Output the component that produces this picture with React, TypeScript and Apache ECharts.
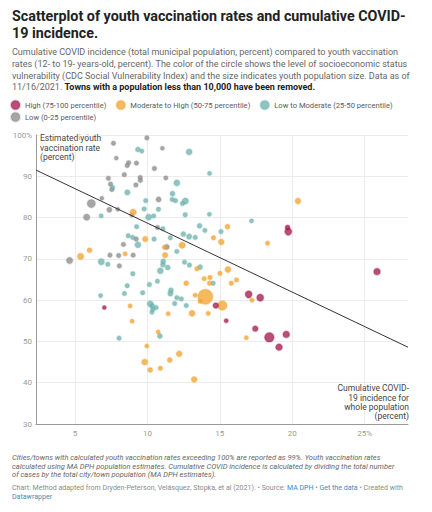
import React, { useEffect, useRef } from "react";
import * as echarts from "echarts";

// [cumulative COVID incidence %, youth vaccination rate %, youth population]
const highPoints: number[][] = [
  [25.86, 66.9, 2000], [19.68, 77.6, 1100], [19.73, 76.6, 2200], [16.99, 61.4, 2200],
  [17.79, 60.6, 2200], [14.72, 58.7, 1400], [15.44, 55.0, 800], [17.45, 53.1, 1400],
  [18.42, 51.0, 4000], [19.59, 51.7, 2000], [19.09, 48.6, 2000], [7.02, 58.2, 700],
];

const modHighPoints: number[][] = [
  [20.4, 84.0, 1500], [9.01, 81.3, 1800], [15.53, 77.8, 1100], [9.84, 74.8, 1300],
  [14.56, 75.1, 900], [15.1, 74.1, 1500], [18.3, 73.8, 800], [12.4, 73.3, 1800],
  [11.18, 72.8, 900], [6.0, 72.1, 1100], [5.38, 70.6, 1800], [8.46, 71.2, 800],
  [11.22, 70.9, 1300], [15.56, 67.4, 1600], [15.01, 66.5, 900], [13.42, 67.6, 900],
  [14.32, 65.5, 900], [13.92, 65.2, 900], [16.15, 64.9, 900], [12.68, 64.1, 1100],
  [14.29, 64.1, 900], [15.79, 64.1, 900], [13.3, 61.2, 800], [14.0, 60.8, 10000],
  [13.64, 59.7, 800], [15.17, 58.7, 4000], [13.08, 56.8, 1600], [11.43, 56.7, 800],
  [14.2, 56.8, 800], [17.22, 60.0, 800], [8.8, 58.6, 800], [8.94, 54.9, 800],
  [16.83, 50.9, 800], [10.74, 52.3, 800], [9.96, 48.9, 800], [9.81, 45.0, 1600],
  [10.19, 43.1, 1100], [10.89, 43.5, 900], [11.54, 45.5, 1100], [12.19, 47.0, 1500],
  [13.23, 40.8, 1500],
];

const lowModPoints: number[][] = [
  [9.34, 96.5, 1100], [9.61, 96.1, 800], [12.88, 95.9, 1600], [14.29, 90.7, 800],
  [7.59, 87.3, 900], [12.03, 88.4, 1600], [8.61, 86.1, 1300], [11.73, 85.8, 1100],
  [9.88, 84.1, 900], [11.71, 84.4, 900], [11.94, 84.1, 900], [12.62, 84.0, 1800],
  [12.42, 83.4, 900], [9.77, 82.1, 900], [10.76, 82.0, 900], [12.61, 80.7, 900],
  [14.28, 80.8, 800], [6.8, 80.4, 800], [10.08, 80.1, 1600], [10.43, 80.4, 900],
  [9.25, 77.8, 900], [11.07, 77.3, 900], [13.6, 78.0, 1100], [13.97, 76.9, 900],
  [15.08, 76.6, 900], [17.19, 79.2, 800], [8.67, 75.6, 900], [8.98, 75.2, 900],
  [10.46, 74.8, 900], [11.58, 75.1, 900], [12.48, 76.0, 1100], [12.88, 75.4, 1300],
  [13.3, 75.2, 900], [9.34, 73.4, 1600], [12.03, 71.8, 900], [6.81, 69.3, 1800],
  [7.26, 68.7, 900], [11.09, 69.4, 1100], [11.07, 68.6, 1100], [11.4, 67.9, 1100],
  [12.56, 69.2, 900], [12.9, 68.5, 900], [13.64, 68.0, 1100], [10.89, 67.1, 1600],
  [8.99, 66.4, 900], [14.54, 64.1, 900], [10.14, 63.8, 900], [10.69, 64.6, 900],
  [8.6, 63.5, 900], [8.41, 61.6, 900], [9.67, 61.8, 900], [6.76, 61.1, 800],
  [11.62, 62.4, 1100], [11.59, 61.6, 1300], [12.03, 60.6, 900], [12.34, 60.3, 900],
  [11.88, 59.2, 900], [12.68, 58.7, 900], [10.19, 59.1, 1600], [10.33, 58.6, 1100],
  [10.37, 57.8, 900], [10.6, 58.2, 900], [10.31, 57.1, 900], [10.86, 51.3, 1100],
  [8.04, 50.8, 900],
];

const lowPoints: number[][] = [
  [5.3, 99.5, 900], [5.86, 99.5, 900], [9.96, 99.3, 900], [7.65, 98.0, 900],
  [11.03, 96.8, 700], [7.85, 94.4, 700], [8.7, 93.3, 900], [8.6, 92.6, 900],
  [9.24, 93.2, 900], [10.48, 91.9, 900], [8.4, 90.4, 900], [9.5, 89.7, 900],
  [9.51, 89.0, 900], [7.3, 89.5, 900], [11.27, 89.6, 800], [7.45, 88.1, 900],
  [7.54, 86.8, 900], [9.2, 87.9, 900], [6.85, 84.7, 700], [6.12, 83.4, 3000],
  [10.77, 84.4, 1200], [7.37, 81.9, 1200], [7.95, 82.0, 700], [5.8, 80.1, 1800],
  [8.92, 80.6, 700], [10.69, 77.6, 900], [9.22, 74.8, 900], [8.34, 73.5, 900],
  [11.33, 72.9, 1200], [4.62, 69.6, 1800], [7.41, 70.9, 900], [8.01, 70.8, 900],
  [9.01, 70.9, 900], [8.06, 68.3, 900],
];

const trendLine: number[][] = [[2.3, 91.5], [28, 48.6]];

const xTicks = [5, 10, 15, 20, 25];

const categoryNames = [
  "High (75-100 percentile)",
  "Moderate to High (50-75 percentile)",
  "Low to Moderate (25-50 percentile)",
  "Low (0-25 percentile)",
];

const FONT = "Roboto";

function rgba(rgb: number[], a: number) {
  return `rgba(${rgb[0]},${rgb[1]},${rgb[2]},${a})`;
}

const COLORS: Record<string, number[]> = {
  high: [160, 24, 76],
  modHigh: [242, 163, 46],
  lowMod: [108, 178, 172],
  low: [138, 138, 138],
};

function scatter(name: string, data: number[][], rgb: number[]) {
  return {
    type: "scatter",
    name,
    data,
    symbol: "circle",
    symbolSize: (v: number[]) => Math.sqrt(v[2]) * 0.15,
    itemStyle: {
      color: rgba(rgb, 0.95),
      borderColor: rgba(rgb, 0.35),
      borderWidth: 1.5,
    },
    z: 2,
  };
}

export default function App() {
  const ref = useRef<HTMLDivElement>(null);

  useEffect(() => {
    if (!ref.current) return;
    const chart = echarts.init(ref.current, null, { renderer: "svg" });
    const legendText = { fontFamily: FONT, fontSize: 7.6, color: "#5a5a5a" };
    const option: any = {
      animation: false,
      textStyle: { fontFamily: FONT },
      grid: { left: 36, right: 24, top: 135, bottom: 88 },
      legend: [
        {
          left: 10,
          top: 99.5,
          padding: 0,
          itemWidth: 9,
          itemHeight: 9,
          itemGap: 9,
          icon: "circle",
          textStyle: legendText,
          data: categoryNames.slice(0, 3),
          selectedMode: false,
        },
        {
          left: 10,
          top: 111.5,
          padding: 0,
          itemWidth: 9,
          itemHeight: 9,
          icon: "circle",
          textStyle: legendText,
          data: categoryNames.slice(3),
          selectedMode: false,
        },
      ],
      xAxis: {
        type: "value",
        min: 2.3,
        max: 28,
        axisLine: { show: true, lineStyle: { color: "#9a9a9a", width: 1 } },
        axisTick: { show: false, customValues: xTicks },
        axisLabel: {
          customValues: xTicks,
          color: "#999",
          fontSize: 8,
          fontFamily: FONT,
          margin: 5,
          formatter: (v: number) => (v === 25 ? "25%" : String(v)),
        },
        splitLine: { show: true, lineStyle: { color: "#ececec", width: 1 } },
      },
      yAxis: {
        type: "value",
        min: 30,
        max: 100,
        interval: 10,
        axisLine: { show: true, lineStyle: { color: "#9a9a9a", width: 1 } },
        axisTick: { show: false },
        axisLabel: {
          color: "#999",
          fontSize: 8,
          fontFamily: FONT,
          margin: 4,
          formatter: (v: number) => (v === 100 ? "100%" : String(v)),
        },
        splitLine: { show: true, lineStyle: { color: "#ececec", width: 1 } },
      },
      series: [
        scatter(categoryNames[3], lowPoints, COLORS.low),
        scatter(categoryNames[2], lowModPoints, COLORS.lowMod),
        scatter(categoryNames[1], modHighPoints, COLORS.modHigh),
        scatter(categoryNames[0], highPoints, COLORS.high),
        {
          type: "line",
          data: trendLine,
          symbol: "none",
          silent: true,
          lineStyle: { color: "#333", width: 1 },
          z: 3,
        },
      ],
      graphic: [
        {
          type: "text",
          left: 12,
          top: 7.5,
          style: {
            text: "Scatterplot of youth vaccination rates and cumulative COVID-\n19 incidence.",
            fontFamily: FONT,
            fontSize: 14.3,
            fontWeight: "bold",
            lineHeight: 17,
            fill: "#222",
          },
        },
        {
          type: "text",
          left: 12,
          top: 46.5,
          style: {
            text:
              "Cumulative COVID incidence (total municipal population, percent) compared to youth vaccination\n" +
              "rates (12- to 19- years-old, percent). The color of the circle shows the level of socioeconomic status\n" +
              "vulnerability (CDC Social Vulnerability Index) and the size indicates youth population size. Data as of\n" +
              "11/16/2021. {b|Towns with a population less than 10,000 have been removed.}",
            fontFamily: FONT,
            fontSize: 9,
            lineHeight: 11.7,
            fill: "#666",
            rich: {
              b: { fontFamily: FONT, fontSize: 9, lineHeight: 11.7, fontWeight: "bold", fill: "#222" },
            },
          },
        },
        {
          type: "text",
          x: 40,
          y: 133.5,
          z: 10,
          style: {
            text: "Estimated youth\nvaccination rate\n(percent)",
            fontFamily: FONT,
            fontSize: 8.5,
            lineHeight: 9.5,
            fill: "#444",
            stroke: "#fff",
            lineWidth: 2,
            verticalAlign: "top",
          },
        },
        {
          type: "text",
          x: 409,
          y: 383.6,
          z: 10,
          style: {
            text: "Cumulative COVID-\n19 incidence for\nwhole population\n(percent)",
            fontFamily: FONT,
            fontSize: 8.5,
            lineHeight: 9.3,
            fill: "#444",
            stroke: "#fff",
            lineWidth: 2,
            align: "right",
            verticalAlign: "top",
          },
        },
        {
          type: "text",
          left: 12,
          top: 453,
          style: {
            text:
              "Cities/towns with calculated youth vaccination rates exceeding 100% are reported as 99%. Youth vaccination rates\n" +
              "calculated using MA DPH population estimates. Cumulative COVID incidence is calculated by dividing the total number\n" +
              "of cases by the total city/town population (MA DPH estimates).",
            fontFamily: FONT,
            fontSize: 7.5,
            fontStyle: "italic",
            lineHeight: 8.7,
            fill: "#666",
          },
        },
        {
          type: "text",
          left: 12,
          top: 483.2,
          style: {
            text:
              "Chart: Method adapted from Dryden-Peterson, Velásquez, Stopka, et al (2021). • Source: {a|MA DPH} • {a|Get the data} • Created with\n{a|Datawrapper}",
            fontFamily: FONT,
            fontSize: 7.05,
            lineHeight: 9,
            fill: "#8a8a8a",
            rich: {
              a: { fontFamily: FONT, fontSize: 7.05, lineHeight: 9, fill: "#3a8cc0" },
            },
          },
        },
      ],
    };
    chart.setOption(option);
    return () => chart.dispose();
  }, []);

  return (
    <div
      ref={ref}
      style={{ position: "absolute", left: 0, top: 0, width: 432, height: 512, background: "#fff" }}
    />
  );
}
